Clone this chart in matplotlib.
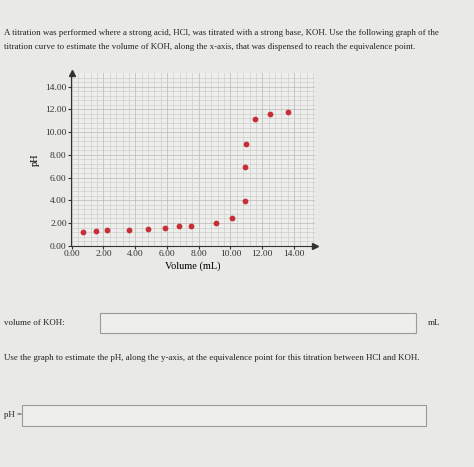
import matplotlib
matplotlib.use("Agg")
import matplotlib.pyplot as plt
import numpy as np
from matplotlib.patches import Rectangle

volume = [0.7, 1.5, 2.25, 3.6, 4.8, 5.9, 6.75, 7.5, 9.1, 10.1, 10.9, 10.9, 11.0, 11.55, 12.5, 13.6]
ph = [1.23, 1.3, 1.35, 1.38, 1.5, 1.58, 1.7, 1.76, 2.03, 2.4, 3.93, 6.96, 8.98, 11.15, 11.56, 11.74]
xticks = [0, 2, 4, 6, 8, 10, 12, 14]
yticks = [0, 2, 4, 6, 8, 10, 12, 14]

W, H = 474, 467
fig = plt.figure(figsize=(W/100, H/100), dpi=100)
bg = '#e9e9e7'
fig.patch.set_facecolor(bg)
plt.rcParams['font.family'] = 'Liberation Serif'

def T(x, y, s, **kw):
    fig.text(x/W, 1-y/H, s, fontsize=6.4, color='#222222', va='center', **kw)

T(4, 33, "A titration was performed where a strong acid, HCl, was titrated with a strong base, KOH. Use the following graph of the")
T(4, 47, "titration curve to estimate the volume of KOH, along the x-axis, that was dispensed to reach the equivalence point.")
T(4, 323, "volume of KOH:")
T(428, 323, "mL")
T(4, 358, "Use the graph to estimate the pH, along the y-axis, at the equivalence point for this titration between HCl and KOH.")
T(4, 415, "pH =")
for (x0, y0, x1, y1) in [(100, 313, 416, 333), (22, 405, 426, 426)]:
    fig.patches.append(Rectangle((x0/W, 1-y1/H), (x1-x0)/W, (y1-y0)/H, transform=fig.transFigure,
                                 facecolor='#eeeeec', edgecolor='#9a9a9a', lw=0.8))

xmin, xmax = -0.05, 15.3
ymin, ymax = -0.05, 15.2
sx = (294-71.7)/14; sy = (245.7-86.7)/14
left = 71.7 + xmin*sx; right = 71.7 + xmax*sx
bottom = 245.7 - ymin*sy; top = 245.7 - ymax*sy
ax = fig.add_axes([left/W, 1-bottom/H, (right-left)/W, (bottom-top)/H])
ax.set_facecolor('#eeeeec')
ax.set_xlim(xmin, xmax); ax.set_ylim(ymin, ymax)
ax.set_xticks(xticks); ax.set_yticks(yticks)
ax.set_xticklabels([f"{v:.2f}" for v in xticks], fontsize=6.8)
ax.set_yticklabels([f"{v:.2f}" for v in yticks], fontsize=6.8)
ax.set_xticks(np.arange(0, 15.3, 0.4), minor=True)
ax.set_yticks(np.arange(0, 15.2, 0.4), minor=True)
ax.grid(which='minor', color='#c8c8c8', lw=0.4)
ax.grid(which='major', color='#b8b8b8', lw=0.5)
ax.tick_params(which='minor', length=0)
ax.tick_params(which='major', length=2, pad=1, colors='#333333')
for s in ['top', 'right']:
    ax.spines[s].set_visible(False)
ax.spines['left'].set_color('#333333'); ax.spines['bottom'].set_color('#333333')
ax.set_axisbelow(True)
ax.plot(1, 0, '>', color='#333333', ms=4, transform=ax.get_yaxis_transform(), clip_on=False)
ax.plot(0, 1, '^', color='#333333', ms=4, transform=ax.get_xaxis_transform(), clip_on=False)
ax.scatter(volume, ph, s=10, color='#c62f36', zorder=3)
ax.set_xlabel("Volume (mL)", fontsize=7.5, labelpad=2)
ax.set_ylabel("pH", fontsize=7.5, labelpad=4)
fig.savefig("out.png", dpi=100, facecolor=bg)
